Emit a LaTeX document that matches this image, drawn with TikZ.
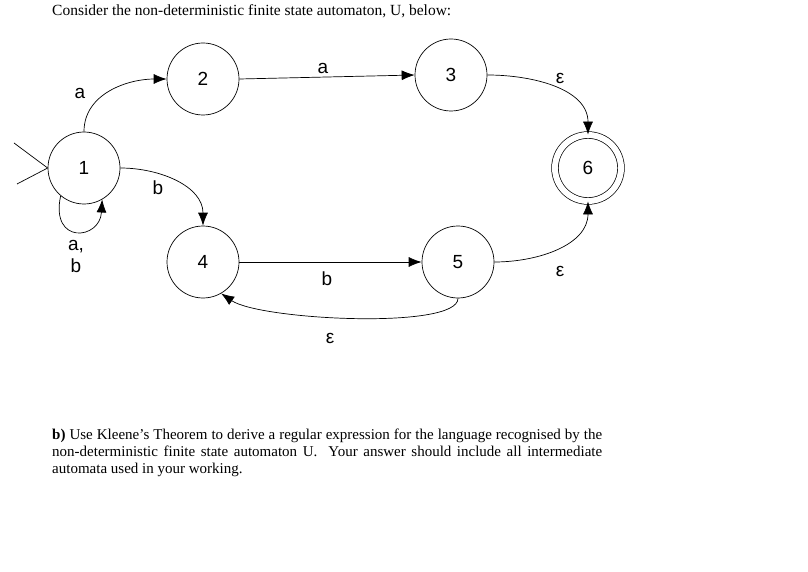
\documentclass[tikz,border=0pt]{standalone}
\usepackage{fontspec}
\setmainfont{Liberation Serif}
\newfontfamily\lsans{Liberation Sans}
\usetikzlibrary{arrows.meta}
\begin{document}
\begin{tikzpicture}[x=1pt,y=-1pt,
  st/.style={circle,draw,line width=0.7pt,minimum size=72pt,inner sep=0pt,font=\lsans\fontsize{19}{22}\selectfont},
  lb/.style={font=\lsans\fontsize{19}{22}\selectfont},
  ed/.style={draw,line width=0.7pt,-{Latex[length=13pt,width=10pt]}}]
\useasboundingbox (0,0) rectangle (808,572);
\node[anchor=north west,font=\fontsize{15.5}{18}\selectfont,inner sep=0pt] (t) at (52,4) {Consider the non-deterministic finite state automaton, U, below:};
\node[st] (1) at (84,168) {1};
\node[st] (2) at (203,79) {2};
\node[st] (3) at (451,75) {3};
\node[st] (4) at (203,262) {4};
\node[st] (5) at (458,262) {5};
\node[st,double distance=6pt,minimum size=66pt] (6) at (588,168) {6};
\coordinate (s1) at (14,143);
\coordinate (s2) at (17,184);
\draw[line width=0.7pt] (s1) -- (1.west) -- (s2);
\path[ed] (1.north) to[out=90,in=180] (2.west);
\path[ed] (2.east) -- (3.west);
\path[ed] (3.east) to[out=0,in=90] (6.north);
\path[ed] (1.east) to[out=0,in=90] (4.north);
\path[ed] (1.230) .. controls (50,245) and (100,240) .. (1.300);
\path[ed] (4.east) -- (5.west);
\path[ed] (5.south) .. controls (458,330) and (260,320) .. (4.-60);
\path[ed] (5.east) to[out=0,in=-90] (6.south);
\node[lb] (la) at (80,93) {a};
\node[lb] (la2) at (323,68) {a};
\node[lb] (le1) at (560,78) {ε};
\node[lb] (lb1) at (158,188) {b};
\node[lb,align=center] (lab) at (76,256) {a,\\b};
\node[lb] (lb2) at (327,279) {b};
\node[lb] (le2) at (330,338) {ε};
\node[lb] (le3) at (560,271) {ε};
\node[anchor=north west,text width=550pt,align=justify,font=\fontsize{15}{17}\selectfont,inner sep=0pt] (p) at (52,429) {\textbf{b)} Use Kleene’s Theorem to derive a regular expression for the language recognised by the non-deterministic finite state automaton U.\ \ Your answer should include all intermediate automata used in your working.};
\end{tikzpicture}
\end{document}
